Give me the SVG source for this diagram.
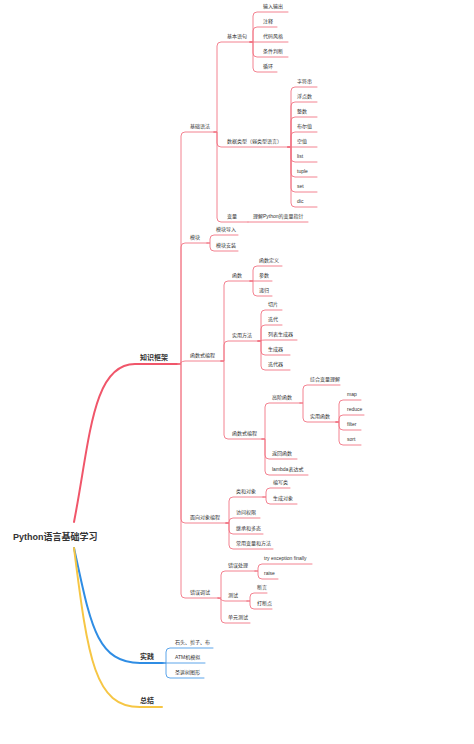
<svg xmlns="http://www.w3.org/2000/svg" width="474" height="744" viewBox="0 0 474 744">
<style>
.r{fill:none;stroke:#f27584;stroke-width:0.9;stroke-linecap:round;stroke-linejoin:round}
.R{fill:none;stroke:#f0566a;stroke-width:2;stroke-linecap:round}
.B{fill:none;stroke:#2f8de4;stroke-width:2;stroke-linecap:round}
.b{fill:none;stroke:#4a9be8;stroke-width:0.9;stroke-linecap:round;stroke-linejoin:round}
.Y{fill:none;stroke:#f6c644;stroke-width:2;stroke-linecap:round}
text{font-family:"Liberation Sans","Noto Sans CJK SC",sans-serif;fill:#333}
.t{font-size:5px}
.m{font-size:7px;font-weight:bold}
.root{font-size:9px;font-weight:bold}
</style>
<rect width="474" height="744" fill="#fff"/>
<g id="connectors">
<path class="R" d="M74,522 C90,440 92,364 135,364 H178"/>
<path class="B" d="M74,548 C90,620 95,663 140,663 H163"/>
<path class="Y" d="M74,548 C88,660 95,707 140,707 H162"/>
<path class="r" d="M178,364H181V136Q181,132 185,132H214"/>
<path class="r" d="M178,364H181V247Q181,243 185,243H207"/>
<path class="r" d="M178,364C181,364 181,361 185,361H221"/>
<path class="r" d="M178,364H181V519Q181,523 185,523H226"/>
<path class="r" d="M178,364H181V594Q181,598 185,598H218"/>
<path class="r" d="M214,132H217V46Q217,42 221,42H250"/>
<path class="r" d="M214,132H217V143Q217,147 221,147H288"/>
<path class="r" d="M214,132H217V218Q217,222 221,222H248"/>
<path class="r" d="M248,222H308"/>
<path class="r" d="M250,42H253V16Q253,12 257,12H288"/>
<path class="r" d="M250,42H253V31Q253,27 257,27H277"/>
<path class="r" d="M250,42H288"/>
<path class="r" d="M250,42H253V53Q253,57 257,57H288"/>
<path class="r" d="M250,42H253V68Q253,72 257,72H277"/>
<path class="r" d="M288,147H291V91Q291,87 295,87H317"/>
<path class="r" d="M288,147H291V106Q291,102 295,102H317"/>
<path class="r" d="M288,147H291V121Q291,117 295,117H317"/>
<path class="r" d="M288,147H291V136Q291,132 295,132H317"/>
<path class="r" d="M288,147H317"/>
<path class="r" d="M288,147H291V158Q291,162 295,162H317"/>
<path class="r" d="M288,147H291V173Q291,177 295,177H317"/>
<path class="r" d="M288,147H291V188Q291,192 295,192H317"/>
<path class="r" d="M288,147H291V203Q291,207 295,207H317"/>
<path class="r" d="M207,243H210V239Q210,235 214,235H238"/>
<path class="r" d="M207,243H210V247Q210,251 214,251H238"/>
<path class="r" d="M221,361H224V285Q224,281 228,281H250"/>
<path class="r" d="M221,361H224V345Q224,341 228,341H258"/>
<path class="r" d="M221,361H224V435Q224,439 228,439H262"/>
<path class="r" d="M250,281H253V270Q253,266 257,266H282"/>
<path class="r" d="M250,281H272"/>
<path class="r" d="M250,281H253V292Q253,296 257,296H272"/>
<path class="r" d="M258,341H261V314Q261,310 265,310H282"/>
<path class="r" d="M258,341H261V329Q261,325 265,325H282"/>
<path class="r" d="M258,341C261,341 261,340 265,340H297"/>
<path class="r" d="M258,341H261V351Q261,355 265,355H290"/>
<path class="r" d="M258,341H261V366Q261,370 265,370H290"/>
<path class="r" d="M262,439H265V407Q265,403 269,403H300"/>
<path class="r" d="M262,439H265V455Q265,459 269,459H297"/>
<path class="r" d="M262,439H265V471Q265,475 269,475H308"/>
<path class="r" d="M300,403H303V389Q303,385 307,385H340"/>
<path class="r" d="M300,403H303V418Q303,422 307,422H336"/>
<path class="r" d="M336,422H339V404Q339,400 343,400H361"/>
<path class="r" d="M336,422H339V419Q339,415 343,415H364"/>
<path class="r" d="M336,422H339V426Q339,430 343,430H361"/>
<path class="r" d="M336,422H339V441Q339,445 343,445H361"/>
<path class="r" d="M226,523H229V501Q229,497 233,497H263"/>
<path class="r" d="M226,523H229V522Q229,518 233,518H260"/>
<path class="r" d="M226,523H229V530Q229,534 233,534H263"/>
<path class="r" d="M226,523H229V545Q229,549 233,549H273"/>
<path class="r" d="M263,497H266V492Q266,488 270,488H290"/>
<path class="r" d="M263,497H266V500Q266,504 270,504H297"/>
<path class="r" d="M218,598H221V575Q221,571 225,571H255"/>
<path class="r" d="M218,598C221,598 221,601 225,601H247"/>
<path class="r" d="M218,598H221V619Q221,623 225,623H250"/>
<path class="r" d="M255,571H258V568Q258,564 262,564H312"/>
<path class="r" d="M255,571H258V575Q258,579 262,579H278"/>
<path class="r" d="M247,601H250V597Q250,593 254,593H267"/>
<path class="r" d="M247,601H250V605Q250,609 254,609H272"/>
<path class="b" d="M163,663H166V652Q166,648 170,648H213"/>
<path class="b" d="M163,663H205"/>
<path class="b" d="M163,663H166V674Q166,678 170,678H204"/>
</g>
<g id="root"><text class="root" x="13" y="540">Python语言基础学习</text></g>
<g id="n-kszj"><text class="m" x="140" y="360">知识框架</text></g>
<g id="n-sj"><text class="m" x="140" y="659">实践</text></g>
<g id="n-zj"><text class="m" x="140" y="703">总结</text></g>
<g id="n-jcyf"><text class="t" x="190" y="128">基础语法</text></g>
<g id="n-mk"><text class="t" x="190" y="239">模块</text></g>
<g id="n-hssbc"><text class="t" x="190" y="357">函数式编程</text></g>
<g id="n-mxdx"><text class="t" x="190" y="519">面向对象编程</text></g>
<g id="n-cwts"><text class="t" x="190" y="594">错误调试</text></g>
<g id="n-jbyj"><text class="t" x="227" y="38">基本语句</text></g>
<g id="n-sjlx"><text class="t" x="227" y="143">数据类型（弱类型语言）</text></g>
<g id="n-bl"><text class="t" x="227" y="218">变量</text></g>
<g id="n-ljbl"><text class="t" x="253" y="218">理解Python的变量指针</text></g>
<g id="n-srsc"><text class="t" x="263" y="8">输入输出</text></g>
<g id="n-zs"><text class="t" x="263" y="23">注释</text></g>
<g id="n-dmfg"><text class="t" x="263" y="38">代码风格</text></g>
<g id="n-tjpd"><text class="t" x="263" y="53">条件判断</text></g>
<g id="n-xh"><text class="t" x="263" y="68">循环</text></g>
<g id="n-zfc"><text class="t" x="297" y="83">字符串</text></g>
<g id="n-fds"><text class="t" x="297" y="98">浮点数</text></g>
<g id="n-zs2"><text class="t" x="297" y="113">整数</text></g>
<g id="n-bez"><text class="t" x="297" y="128">布尔值</text></g>
<g id="n-kz"><text class="t" x="297" y="143">空值</text></g>
<g id="n-list"><text class="t" x="297" y="158">list</text></g>
<g id="n-tuple"><text class="t" x="297" y="173">tuple</text></g>
<g id="n-set"><text class="t" x="297" y="188">set</text></g>
<g id="n-dic"><text class="t" x="297" y="203">dic</text></g>
<g id="n-mkdr"><text class="t" x="216" y="231">模块导入</text></g>
<g id="n-mkaz"><text class="t" x="216" y="247">模块安装</text></g>
<g id="n-hs"><text class="t" x="232" y="277">函数</text></g>
<g id="n-syff"><text class="t" x="232" y="337">实用方法</text></g>
<g id="n-hssbc2"><text class="t" x="232" y="435">函数式编程</text></g>
<g id="n-hsdy"><text class="t" x="259" y="262">函数定义</text></g>
<g id="n-cs"><text class="t" x="259" y="277">参数</text></g>
<g id="n-dg"><text class="t" x="259" y="292">递归</text></g>
<g id="n-qp"><text class="t" x="268" y="306">切片</text></g>
<g id="n-dd"><text class="t" x="268" y="321">迭代</text></g>
<g id="n-lbscq"><text class="t" x="268" y="336">列表生成器</text></g>
<g id="n-scq"><text class="t" x="268" y="351">生成器</text></g>
<g id="n-ddq"><text class="t" x="268" y="366">迭代器</text></g>
<g id="n-gjhs"><text class="t" x="272" y="399">高阶函数</text></g>
<g id="n-fhhs"><text class="t" x="272" y="455">返回函数</text></g>
<g id="n-lambda"><text class="t" x="272" y="471">lambda表达式</text></g>
<g id="n-zhbl"><text class="t" x="310" y="381">综合变量理解</text></g>
<g id="n-syhs"><text class="t" x="310" y="418">实用函数</text></g>
<g id="n-map"><text class="t" x="347" y="396">map</text></g>
<g id="n-reduce"><text class="t" x="347" y="411">reduce</text></g>
<g id="n-filter"><text class="t" x="347" y="426">filter</text></g>
<g id="n-sort"><text class="t" x="347" y="441">sort</text></g>
<g id="n-lhdx"><text class="t" x="236" y="493">类和对象</text></g>
<g id="n-fwqx"><text class="t" x="236" y="514">访问权限</text></g>
<g id="n-jchdt"><text class="t" x="236" y="530">继承和多态</text></g>
<g id="n-cybl"><text class="t" x="236" y="545">常用变量和方法</text></g>
<g id="n-bxl"><text class="t" x="273" y="484">编写类</text></g>
<g id="n-scdx"><text class="t" x="273" y="500">生成对象</text></g>
<g id="n-cwcl"><text class="t" x="228" y="567">错误处理</text></g>
<g id="n-cs2"><text class="t" x="228" y="597">测试</text></g>
<g id="n-dycs"><text class="t" x="228" y="619">单元测试</text></g>
<g id="n-try"><text class="t" x="264" y="560">try exception finally</text></g>
<g id="n-raise"><text class="t" x="264" y="575">raise</text></g>
<g id="n-dy"><text class="t" x="257" y="589">断言</text></g>
<g id="n-ddd"><text class="t" x="257" y="605">打断点</text></g>
<g id="n-stjb"><text class="t" x="175" y="644">石头、剪子、布</text></g>
<g id="n-atm"><text class="t" x="175" y="659">ATM机模拟</text></g>
<g id="n-sds"><text class="t" x="175" y="674">圣诞树图形</text></g>
</svg>
